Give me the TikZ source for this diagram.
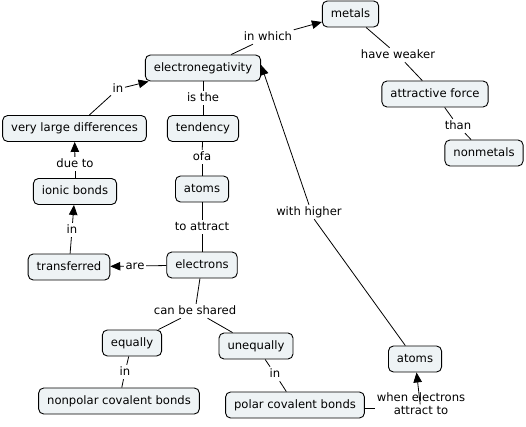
\documentclass[tikz,border=0pt]{standalone}
\usepackage{fontspec}
\setmainfont{DejaVu Sans}
\usetikzlibrary{arrows.meta}
\definecolor{boxfill}{HTML}{EEF3F5}
\tikzset{
  concept/.style={draw=black, line width=0.9pt, fill=boxfill, rounded corners=5pt,
    inner xsep=8.5pt, inner ysep=0pt, minimum height=26pt,
    font=\fontsize{11.6}{13.5}\selectfont, text height=8.6pt, text depth=2.4pt},
  lbl/.style={inner sep=1.5pt, font=\fontsize{11.6}{13.5}\selectfont, text height=8.6pt, text depth=2.4pt},
  link/.style={line width=0.8pt, black},
  arr/.style={link, -{Triangle[length=10pt,width=8.5pt]}}
}
\begin{document}
\begin{tikzpicture}[x=1pt,y=-1pt]
\useasboundingbox (0,0) rectangle (526,427);
% concepts
\node[concept] (metals) at (350.5,14) {metals};
\node[concept] (eneg) at (203,68) {electronegativity};
\node[concept] (attr) at (435,94) {attractive force};
\node[concept] (vld) at (74.5,128.5) {very large differences};
\node[concept] (tend) at (203,128.5) {tendency};
\node[concept] (nonm) at (484,153) {nonmetals};
\node[concept] (ionic) at (75,191.5) {ionic bonds};
\node[concept] (atomsT) at (202,189) {atoms};
\node[concept] (trans) at (69,267) {transferred};
\node[concept] (elec) at (202,265) {electrons};
\node[concept] (equal) at (132,343) {equally};
\node[concept] (unequal) at (256,346) {unequally};
\node[concept] (atomsR) at (415,359) {atoms};
\node[concept] (nonpolar) at (119,401) {nonpolar covalent bonds};
\node[concept] (polar) at (295,405) {polar covalent bonds};
% labels
\node[lbl] (inwhich) at (268,37) {in which};
\node[lbl] (haveweaker) at (398,55) {have weaker};
\node[lbl] (than) at (458,126) {than};
\node[lbl] (inA) at (118,89) {in};
\node[lbl] (isthe) at (203,98) {is the};
\node[lbl] (ofa) at (202,157) {ofa};
\node[lbl] (dueto) at (75,164) {due to};
\node[lbl] (toattract) at (202,227) {to attract};
\node[lbl] (inB) at (72,230) {in};
\node[lbl] (are) at (135,266) {are};
\node[lbl] (withhigher) at (309,212) {with higher};
\node[lbl] (canbe) at (195,311) {can be shared};
\node[lbl] (inC) at (125,372) {in};
\node[lbl] (inD) at (275,374) {in};
\node[lbl, align=center] (when) at (421,411.5) {when electrons\\attract to};
% connectors
\draw[link] (eneg) -- (inwhich);
\draw[arr] (inwhich) -- (metals);
\draw[link] (metals) -- (haveweaker);
\draw[link] (haveweaker) -- (attr);
\draw[link] (attr) -- (than);
\draw[link] (than) -- (nonm);
\draw[link] (vld) -- (inA);
\draw[arr] (inA) -- (eneg);
\draw[link] (eneg) -- (isthe);
\draw[link] (isthe) -- (tend);
\draw[link] (tend) -- (ofa);
\draw[link] (ofa) -- (atomsT);
\draw[link] (atomsT) -- (toattract);
\draw[link] (toattract) -- (elec);
\draw[link] (ionic) -- (dueto);
\draw[arr] (dueto) -- (vld);
\draw[link] (trans) -- (inB);
\draw[arr] (inB) -- (ionic);
\draw[link] (elec) -- (are);
\draw[arr] (are) -- (trans);
\draw[link] (elec) -- (canbe);
\draw[link] (canbe) -- (equal);
\draw[link] (canbe) -- (unequal);
\draw[link] (equal) -- (inC);
\draw[link] (inC) -- (nonpolar);
\draw[link] (unequal) -- (inD);
\draw[link] (inD) -- (polar);
\draw[link] ([yshift=-3pt]polar.east) -- ([yshift=-3pt]polar.east -| when.west);
\draw[arr] (when) -- (atomsR);
\draw[link] (atomsR) -- (withhigher);
\draw[arr] (withhigher.north) -- ([yshift=3pt]eneg.east);
\end{tikzpicture}
\end{document}
